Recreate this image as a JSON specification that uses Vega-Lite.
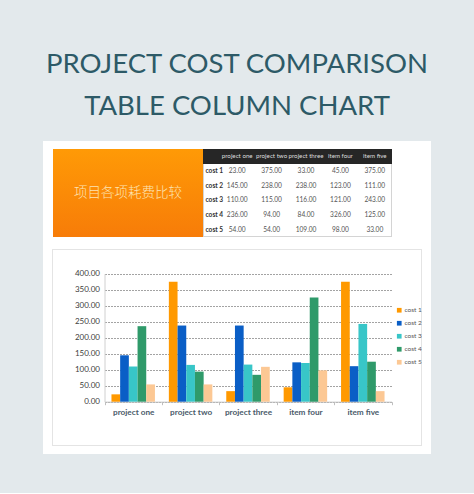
{
  "$schema": "https://vega.github.io/schema/vega-lite/v6.json",
  "background": "#e3e9ec",
  "padding": {"left": 43, "right": 43, "top": 50, "bottom": 39},
  "title": {
    "text": ["PROJECT COST COMPARISON", "TABLE COLUMN CHART"],
    "font": "Lato",
    "fontSize": 27.5,
    "fontWeight": "normal",
    "color": "#2d5a67",
    "lineHeight": 42,
    "anchor": "middle",
    "offset": 21
  },
  "config": {"view": {"stroke": null}},
  "datasets": {
    "costs": [
      {"project": "project one", "cost": "cost 1", "value": 23},
      {"project": "project two", "cost": "cost 1", "value": 375},
      {"project": "project three", "cost": "cost 1", "value": 33},
      {"project": "item four", "cost": "cost 1", "value": 45},
      {"project": "item five", "cost": "cost 1", "value": 375},
      {"project": "project one", "cost": "cost 2", "value": 145},
      {"project": "project two", "cost": "cost 2", "value": 238},
      {"project": "project three", "cost": "cost 2", "value": 238},
      {"project": "item four", "cost": "cost 2", "value": 123},
      {"project": "item five", "cost": "cost 2", "value": 111},
      {"project": "project one", "cost": "cost 3", "value": 110},
      {"project": "project two", "cost": "cost 3", "value": 115},
      {"project": "project three", "cost": "cost 3", "value": 116},
      {"project": "item four", "cost": "cost 3", "value": 121},
      {"project": "item five", "cost": "cost 3", "value": 243},
      {"project": "project one", "cost": "cost 4", "value": 236},
      {"project": "project two", "cost": "cost 4", "value": 94},
      {"project": "project three", "cost": "cost 4", "value": 84},
      {"project": "item four", "cost": "cost 4", "value": 326},
      {"project": "item five", "cost": "cost 4", "value": 125},
      {"project": "project one", "cost": "cost 5", "value": 54},
      {"project": "project two", "cost": "cost 5", "value": 54},
      {"project": "project three", "cost": "cost 5", "value": 109},
      {"project": "item four", "cost": "cost 5", "value": 98},
      {"project": "item five", "cost": "cost 5", "value": 33}
    ]
  },
  "spacing": 0,
  "resolve": {"scale": {"color": "independent"}, "legend": {"color": "independent"}},
  "vconcat": [
    {"width": 388, "height": 8, "data": {"values": []}, "mark": "rect", "encoding": {}, "view": {"fill": "white", "stroke": null}},
    {
      "spacing": 0,
      "hconcat": [
        {"width": 10, "height": 88, "data": {"values": []}, "mark": "rect", "encoding": {}, "view": {"fill": "white", "stroke": null}},
        {
          "width": 150,
          "height": 88,
          "data": {"values": [{"label": "项目各项耗费比较"}]},
          "mark": {"type": "text", "font": "Noto Sans CJK SC", "fontSize": 13.5, "fontWeight": 300, "color": "#fde3b3"},
          "encoding": {
            "x": {"field": "label", "type": "nominal", "axis": null},
            "y": {"field": "label", "type": "nominal", "axis": null},
            "text": {"field": "label"}
          },
          "view": {
            "fill": {"gradient": "linear", "x1": 0, "y1": 0, "x2": 0, "y2": 1, "stops": [{"offset": 0, "color": "#ff9a06"}, {"offset": 1, "color": "#f77c08"}]},
            "stroke": null
          }
        },
        {
          "width": 189,
          "height": 88,
          "data": {"name": "costs"},
          "view": {"fill": "white", "stroke": null},
          "layer": [
            {
              "transform": [{"filter": "datum.cost === 'cost 1' && datum.project === 'project one'"}],
              "mark": {"type": "rect", "fill": null, "stroke": "#d4d4d4", "strokeWidth": 2, "clip": true},
              "encoding": {}
            },
            {
              "transform": [{"filter": "datum.cost === 'cost 1'"}],
              "mark": {"type": "rect", "color": "#262626"},
              "encoding": {
                "y": {"datum": "header", "type": "nominal", "scale": {"type": "band", "domain": ["header", "cost 1", "cost 2", "cost 3", "cost 4", "cost 5"], "paddingInner": 0, "paddingOuter": 0}}
              }
            },
            {
              "transform": [{"filter": "datum.cost === 'cost 1'"}],
              "mark": {"type": "text", "font": "Lato", "fontSize": 6.2, "color": "#dedede"},
              "encoding": {
                "x": {"field": "project", "type": "nominal", "sort": ["project one", "project two", "project three", "item four", "item five"], "scale": {"type": "band", "range": [17, 189], "paddingInner": 0, "paddingOuter": 0}, "axis": null},
                "y": {"datum": "header", "type": "nominal"},
                "text": {"field": "project"}
              }
            },
            {
              "mark": {"type": "text", "font": "Lato", "fontSize": 6.6, "color": "#555555"},
              "encoding": {
                "x": {"field": "project", "type": "nominal", "sort": ["project one", "project two", "project three", "item four", "item five"], "axis": null},
                "y": {"field": "cost", "type": "nominal", "axis": {"values": ["cost 1", "cost 2", "cost 3", "cost 4", "cost 5"], "orient": "left", "offset": -2, "labelAlign": "left", "labelPadding": 0, "ticks": false, "domain": false, "grid": false, "title": null, "labelFont": "Lato", "labelFontSize": 6.6, "labelFontWeight": "bold", "labelColor": "#333333"}},
                "text": {"field": "value", "type": "quantitative", "format": ".2f"}
              }
            }
          ]
        },
        {"width": 39, "height": 88, "data": {"values": []}, "mark": "rect", "encoding": {}, "view": {"fill": "white", "stroke": null}}
      ]
    },
    {"width": 388, "height": 12, "data": {"values": []}, "mark": "rect", "encoding": {}, "view": {"fill": "white", "stroke": null}},
    {
      "spacing": 0,
      "resolve": {"scale": {"color": "independent"}, "legend": {"color": "independent"}},
      "hconcat": [
        {"width": 9, "height": 197, "data": {"values": []}, "mark": "rect", "encoding": {}, "view": {"fill": "white", "stroke": null}},
        {
          "width": 370,
          "height": 197,
          "data": {"name": "costs"},
          "view": {"fill": "white", "stroke": null},
          "layer": [
            {
              "transform": [{"filter": "datum.cost === 'cost 1' && datum.project === 'project one'"}],
              "mark": {"type": "rect", "fill": null, "stroke": "#e4e4e4", "strokeWidth": 2, "clip": true},
              "encoding": {}
            },
            {
              "mark": {"type": "bar"},
              "encoding": {
                "x": {
                  "field": "project", "type": "nominal",
                  "sort": ["project one", "project two", "project three", "item four", "item five"],
                  "scale": {"range": [52.5, 339.5], "paddingInner": 0, "paddingOuter": 0},
                  "axis": {"title": null, "orient": "bottom", "offset": -44.3, "labelAngle": 0, "labelFont": "Lato", "labelFontSize": 8.2, "labelFontWeight": "bold", "labelColor": "#4a5a6a", "labelPadding": 4, "domainColor": "#bfbfbf", "tickColor": "#bfbfbf", "tickSize": 3, "tickBand": "extent", "grid": false}
                },
                "xOffset": {
                  "field": "cost", "type": "nominal",
                  "sort": ["cost 1", "cost 2", "cost 3", "cost 4", "cost 5"],
                  "scale": {"paddingInner": 0, "paddingOuter": 0.8}
                },
                "y": {
                  "field": "value", "type": "quantitative",
                  "scale": {"domain": [0, 400], "range": [152.7, 24.7], "nice": false, "zero": true},
                  "axis": {"title": null, "values": [0, 50, 100, 150, 200, 250, 300, 350, 400], "format": ".2f", "offset": -52.5, "labelFont": "Lato", "labelFontSize": 8, "labelColor": "#404040", "labelPadding": 5, "ticks": false, "domain": true, "domainColor": "#d0d0d0", "grid": true, "gridColor": "#8c8c8c", "gridDash": [2, 1], "gridWidth": 0.8}
                },
                "color": {
                  "field": "cost", "type": "nominal",
                  "scale": {"domain": ["cost 1", "cost 2", "cost 3", "cost 4", "cost 5"], "range": ["#ff9900", "#0a5ec6", "#38c6c8", "#2f9a6a", "#fcc894"]},
                  "legend": {"title": null, "orient": "none", "legendX": 344, "legendY": 58, "symbolType": "square", "symbolSize": 22, "symbolStrokeWidth": 0, "labelFont": "Lato", "labelFontSize": 6.5, "labelColor": "#555555", "rowPadding": 6, "labelOffset": 2, "padding": 0}
                }
              }
            }
          ]
        },
        {"width": 9, "height": 197, "data": {"values": []}, "mark": "rect", "encoding": {}, "view": {"fill": "white", "stroke": null}}
      ]
    },
    {"width": 388, "height": 8, "data": {"values": []}, "mark": "rect", "encoding": {}, "view": {"fill": "white", "stroke": null}}
  ]
}
